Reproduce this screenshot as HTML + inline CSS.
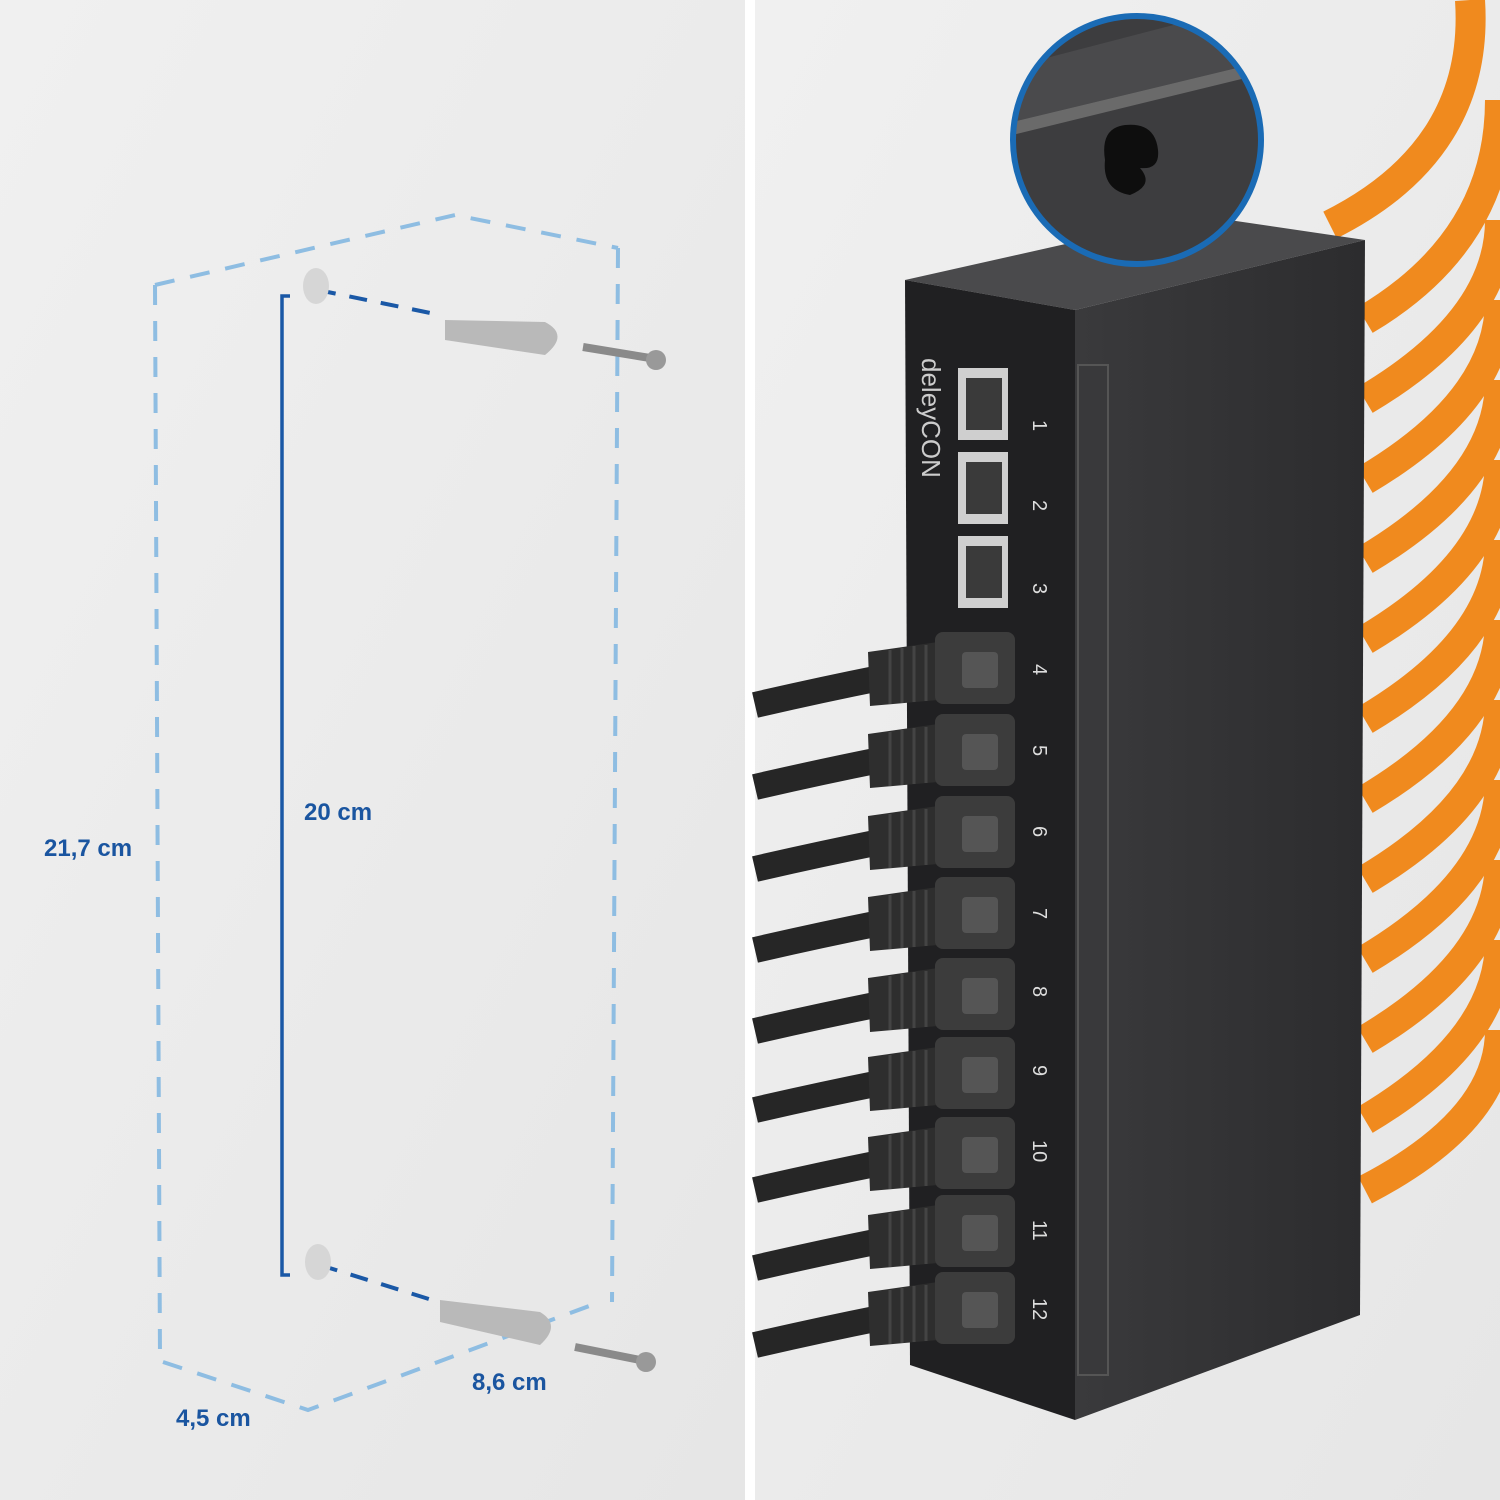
<!DOCTYPE html>
<html><head><meta charset="utf-8"><style>
html,body{margin:0;padding:0;background:#fff}
svg{display:block}
text{font-family:"Liberation Sans",sans-serif}
</style></head><body>
<svg width="1500" height="1500" viewBox="0 0 1500 1500" xmlns="http://www.w3.org/2000/svg">
<defs>
<linearGradient id="wall" x1="0" y1="0" x2="1" y2="1"><stop offset="0" stop-color="#f0f0f0"/><stop offset="1" stop-color="#e6e6e6"/></linearGradient>
<linearGradient id="side" x1="0" y1="0" x2="1" y2="0"><stop offset="0" stop-color="#3a3a3c"/><stop offset="1" stop-color="#2c2c2e"/></linearGradient>
<clipPath id="cc"><circle cx="1137" cy="140" r="124"/></clipPath>
<g id="plug">
<path d="M755 705 Q820 690 880 678" stroke="#262626" stroke-width="26" fill="none"/>
<path d="M868 652 L938 642 L938 700 L870 706 Z" fill="#2e2e2e"/>
<g stroke="#444" stroke-width="3"><line x1="890" y1="650" x2="890" y2="704"/><line x1="902" y1="648" x2="902" y2="703"/><line x1="914" y1="646" x2="914" y2="702"/><line x1="926" y1="645" x2="926" y2="701"/></g>
<rect x="935" y="632" width="80" height="72" rx="8" fill="#3c3c3c"/>
<rect x="962" y="652" width="36" height="36" rx="4" fill="#555"/>
</g>
</defs>
<rect width="1500" height="1500" fill="#fff"/>
<rect x="0" y="0" width="745" height="1500" fill="url(#wall)"/>
<rect x="755" y="0" width="745" height="1500" fill="url(#wall)"/>

<g stroke="#8ebde2" stroke-width="4" stroke-dasharray="20 16" fill="none">
<polyline points="155,285 455,215 618,248"/>
<line x1="155" y1="285" x2="160" y2="1362"/>
<line x1="618" y1="248" x2="612" y2="1302"/>
<polyline points="163,1362 308,1410 600,1302"/>
</g>
<g stroke="#1a58a6" stroke-width="3.5" fill="none">
<polyline points="290,296 282,296 282,1275 290,1275"/>
</g>
<g stroke="#1a58a6" stroke-width="4" stroke-dasharray="18 14" fill="none">
<line x1="318" y1="290" x2="440" y2="315"/>
<line x1="320" y1="1265" x2="432" y2="1300"/>
</g>
<ellipse cx="316" cy="286" rx="13" ry="18" fill="#d6d6d6"/>
<ellipse cx="318" cy="1262" rx="13" ry="18" fill="#d6d6d6"/>
<g fill="#b9b9b9">
<path d="M445 320 L545 322 Q570 335 545 355 L445 340 Z"/>
<path d="M440 1300 L540 1312 Q562 1325 540 1345 L440 1322 Z"/>
</g>
<g stroke="#8a8a8a" stroke-width="8"><line x1="583" y1="347" x2="650" y2="358"/><line x1="575" y1="1347" x2="640" y2="1360"/></g>
<circle cx="656" cy="360" r="10" fill="#999"/><circle cx="646" cy="1362" r="10" fill="#999"/>
<g fill="#1a55a0" font-weight="bold" font-size="24">
<text x="44" y="856">21,7 cm</text>
<text x="304" y="820">20 cm</text>
<text x="176" y="1426">4,5 cm</text>
<text x="472" y="1390">8,6 cm</text>
</g>

<g stroke="#f08a1e" stroke-width="30" fill="none">
<path d="M1330 225 Q1480 150 1470 0"/>
<path d="M1365 320 Q1500 240 1500 100"/>
<path d="M1365 400 Q1500 320 1500 220"/>
<path d="M1365 480 Q1500 400 1500 300"/>
<path d="M1365 560 Q1500 480 1500 380"/>
<path d="M1365 640 Q1500 560 1500 460"/>
<path d="M1365 720 Q1500 640 1500 540"/>
<path d="M1365 800 Q1500 720 1500 620"/>
<path d="M1365 880 Q1500 800 1500 700"/>
<path d="M1365 960 Q1500 880 1500 780"/>
<path d="M1365 1040 Q1500 960 1500 860"/>
<path d="M1365 1120 Q1500 1040 1500 940"/>
<path d="M1365 1190 Q1500 1120 1500 1030"/>
</g>

<polygon points="905,280 1075,310 1365,240 1195,215" fill="#4a4a4c"/>
<polygon points="1075,310 1365,240 1360,1315 1075,1420" fill="url(#side)"/>
<polygon points="905,280 1075,310 1075,1420 910,1365" fill="#202022"/>
<rect x="1078" y="365" width="30" height="1010" fill="#39393b" stroke="#555" stroke-width="2"/>
<text transform="translate(922,358) rotate(90)" fill="#ccc" font-size="26">deleyCON</text>
<g fill="#cfcfcf">
<rect x="958" y="368" width="50" height="72"/><rect x="958" y="452" width="50" height="72"/><rect x="958" y="536" width="50" height="72"/>
</g>
<g fill="#3a3a3a"><rect x="966" y="378" width="36" height="52"/><rect x="966" y="462" width="36" height="52"/><rect x="966" y="546" width="36" height="52"/></g>
<g fill="#ddd" font-size="20">
<text transform="translate(1033,420) rotate(90)">1</text>
<text transform="translate(1033,500) rotate(90)">2</text>
<text transform="translate(1033,583) rotate(90)">3</text>
<text transform="translate(1033,664) rotate(90)">4</text>
<text transform="translate(1033,745) rotate(90)">5</text>
<text transform="translate(1033,826) rotate(90)">6</text>
<text transform="translate(1033,908) rotate(90)">7</text>
<text transform="translate(1033,986) rotate(90)">8</text>
<text transform="translate(1033,1065) rotate(90)">9</text>
<text transform="translate(1033,1140) rotate(90)">10</text>
<text transform="translate(1033,1220) rotate(90)">11</text>
<text transform="translate(1033,1298) rotate(90)">12</text>
</g>
<use href="#plug"/>
<use href="#plug" transform="translate(0,82)"/>
<use href="#plug" transform="translate(0,164)"/>
<use href="#plug" transform="translate(0,245)"/>
<use href="#plug" transform="translate(0,326)"/>
<use href="#plug" transform="translate(0,405)"/>
<use href="#plug" transform="translate(0,485)"/>
<use href="#plug" transform="translate(0,563)"/>
<use href="#plug" transform="translate(0,640)"/>

<g clip-path="url(#cc)">
<rect x="1000" y="0" width="280" height="280" fill="#3d3d3f"/>
<path d="M1000 70 L1270 0 L1270 60 L1000 125 Z" fill="#4a4a4c"/>
<path d="M1000 125 L1270 60 L1270 72 L1000 138 Z" fill="#6a6a6a"/>
<path d="M1125 125 Q1155 122 1158 150 Q1160 170 1140 168 Q1155 185 1130 195 Q1102 190 1105 160 Q1100 128 1125 125 Z" fill="#0e0e0e"/>
</g>
<circle cx="1137" cy="140" r="124" fill="none" stroke="#1a6bb5" stroke-width="6"/>
</svg>
</body></html>
